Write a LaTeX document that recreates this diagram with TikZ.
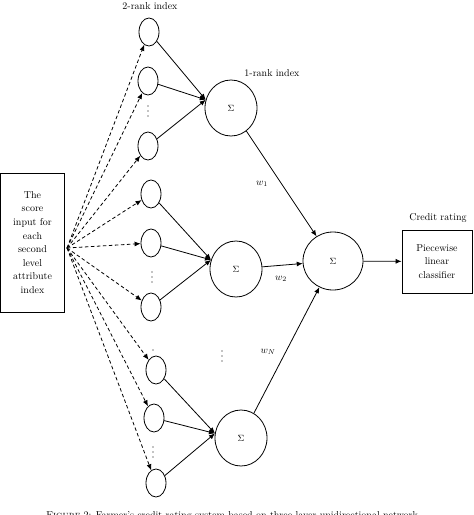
\documentclass[tikz,border=0pt]{standalone}
\usepackage{amsmath}
\usepackage{amssymb}
\usepackage{tikz}
\usetikzlibrary{shapes.geometric,arrows.meta}

\tikzset{
    unit/.style={draw, ellipse, minimum width=20pt, minimum height=28pt, inner sep=0pt},
    sumnode/.style={draw, ellipse, minimum width=52pt, minimum height=56pt, inner sep=0pt, font=\small},
    feed/.style={dash pattern=on 3.5pt off 2.5pt, -{Latex[length=6pt,width=5pt]}},
    link/.style={-{Latex[length=6pt,width=5pt]}}
}
\newcommand{\vdotsat}[2]{\fill (#1,#2-5) circle (0.6pt) (#1,#2) circle (0.6pt) (#1,#2+5) circle (0.6pt);}

\begin{document}
\begin{tikzpicture}[x=1pt,y=-1pt,line width=0.8pt,font=\fontsize{10}{13.6}\selectfont]
    \useasboundingbox (0,0) rectangle (474,515);
    % input box
    \node[draw, minimum width=63pt, minimum height=139pt, text width=58pt, align=center] (input) at (32.5,242.5)
        {The\\score\\input for\\each\\second\\level\\attribute\\index};
    \coordinate (src) at (67,248);
    % 2-rank index
    \node (lab2) at (150,6) {2-rank index};
    \node[unit] (a1) at (149,32) {};
    \node[unit] (a2) at (148,81) {};
    \vdotsat{148}{111}
    \node[unit] (a3) at (148,146) {};
    \node[unit] (b1) at (151,194) {};
    \node[unit] (b2) at (151,243) {};
    \vdotsat{152}{277}
    \node[unit] (b3) at (151,307) {};
    \fill (153,350) circle (0.6pt);
    \node[unit] (c1) at (156,370) {};
    \node[unit] (c2) at (154,418) {};
    \vdotsat{153}{452}
    \node[unit] (c3) at (156,483) {};
    % 1-rank index
    \node (lab1) at (272,73) {1-rank index};
    \node[sumnode] (s1) at (231,108) {$\Sigma$};
    \node[sumnode] (s2) at (236,269) {$\Sigma$};
    \vdotsat{222}{356}
    \node[sumnode] (s3) at (241,438) {$\Sigma$};
    % output
    \node[draw, ellipse, minimum width=60pt, minimum height=58pt, inner sep=0pt, font=\small] (out) at (333,261) {$\Sigma$};
    \node (lab3) at (438,218) {Credit rating};
    \node[draw, minimum width=70pt, minimum height=63pt, align=center] (cls) at (437,261.5) {Piecewise\\linear\\classifier};
    % dashed inputs
    \draw[feed] (src) -- (a1);
    \draw[feed] (src) -- (a2);
    \draw[feed] (src) -- (a3);
    \draw[feed] (src) -- (b1);
    \draw[feed] (src) -- (b2);
    \draw[feed] (src) -- (b3);
    \draw[feed] (src) -- (c1);
    \draw[feed] (src) -- (c2);
    \draw[feed] (src) -- (c3);
    % first layer
    \draw[link] (a1) -- (s1.162);
    \draw[link] (a2) -- (s1.162);
    \draw[link] (a3) -- (s1.162);
    \draw[link] (b1) -- (s2.160);
    \draw[link] (b2) -- (s2.160);
    \draw[link] (b3) -- (s2.160);
    \draw[link] (c1) -- (s3.170);
    \draw[link] (c2) -- (s3.170);
    \draw[link] (c3) -- (s3.170);
    % second layer
    \draw[link] (s1) -- (out);
    \draw[link] (s2) -- (out);
    \draw[link] (s3) -- (out);
    \draw[link] (out) -- (cls);
    \node (w1) at (262,184) {$w_1$};
    \node (w2) at (281,279) {$w_2$};
    \node (wN) at (268,352) {$w_N$};
    % caption
    \node[anchor=base] (cap) at (232,518) {\textsc{Figure} 2: Farmer's credit rating system based on three-layer unidirectional network};
\end{tikzpicture}
\end{document}
